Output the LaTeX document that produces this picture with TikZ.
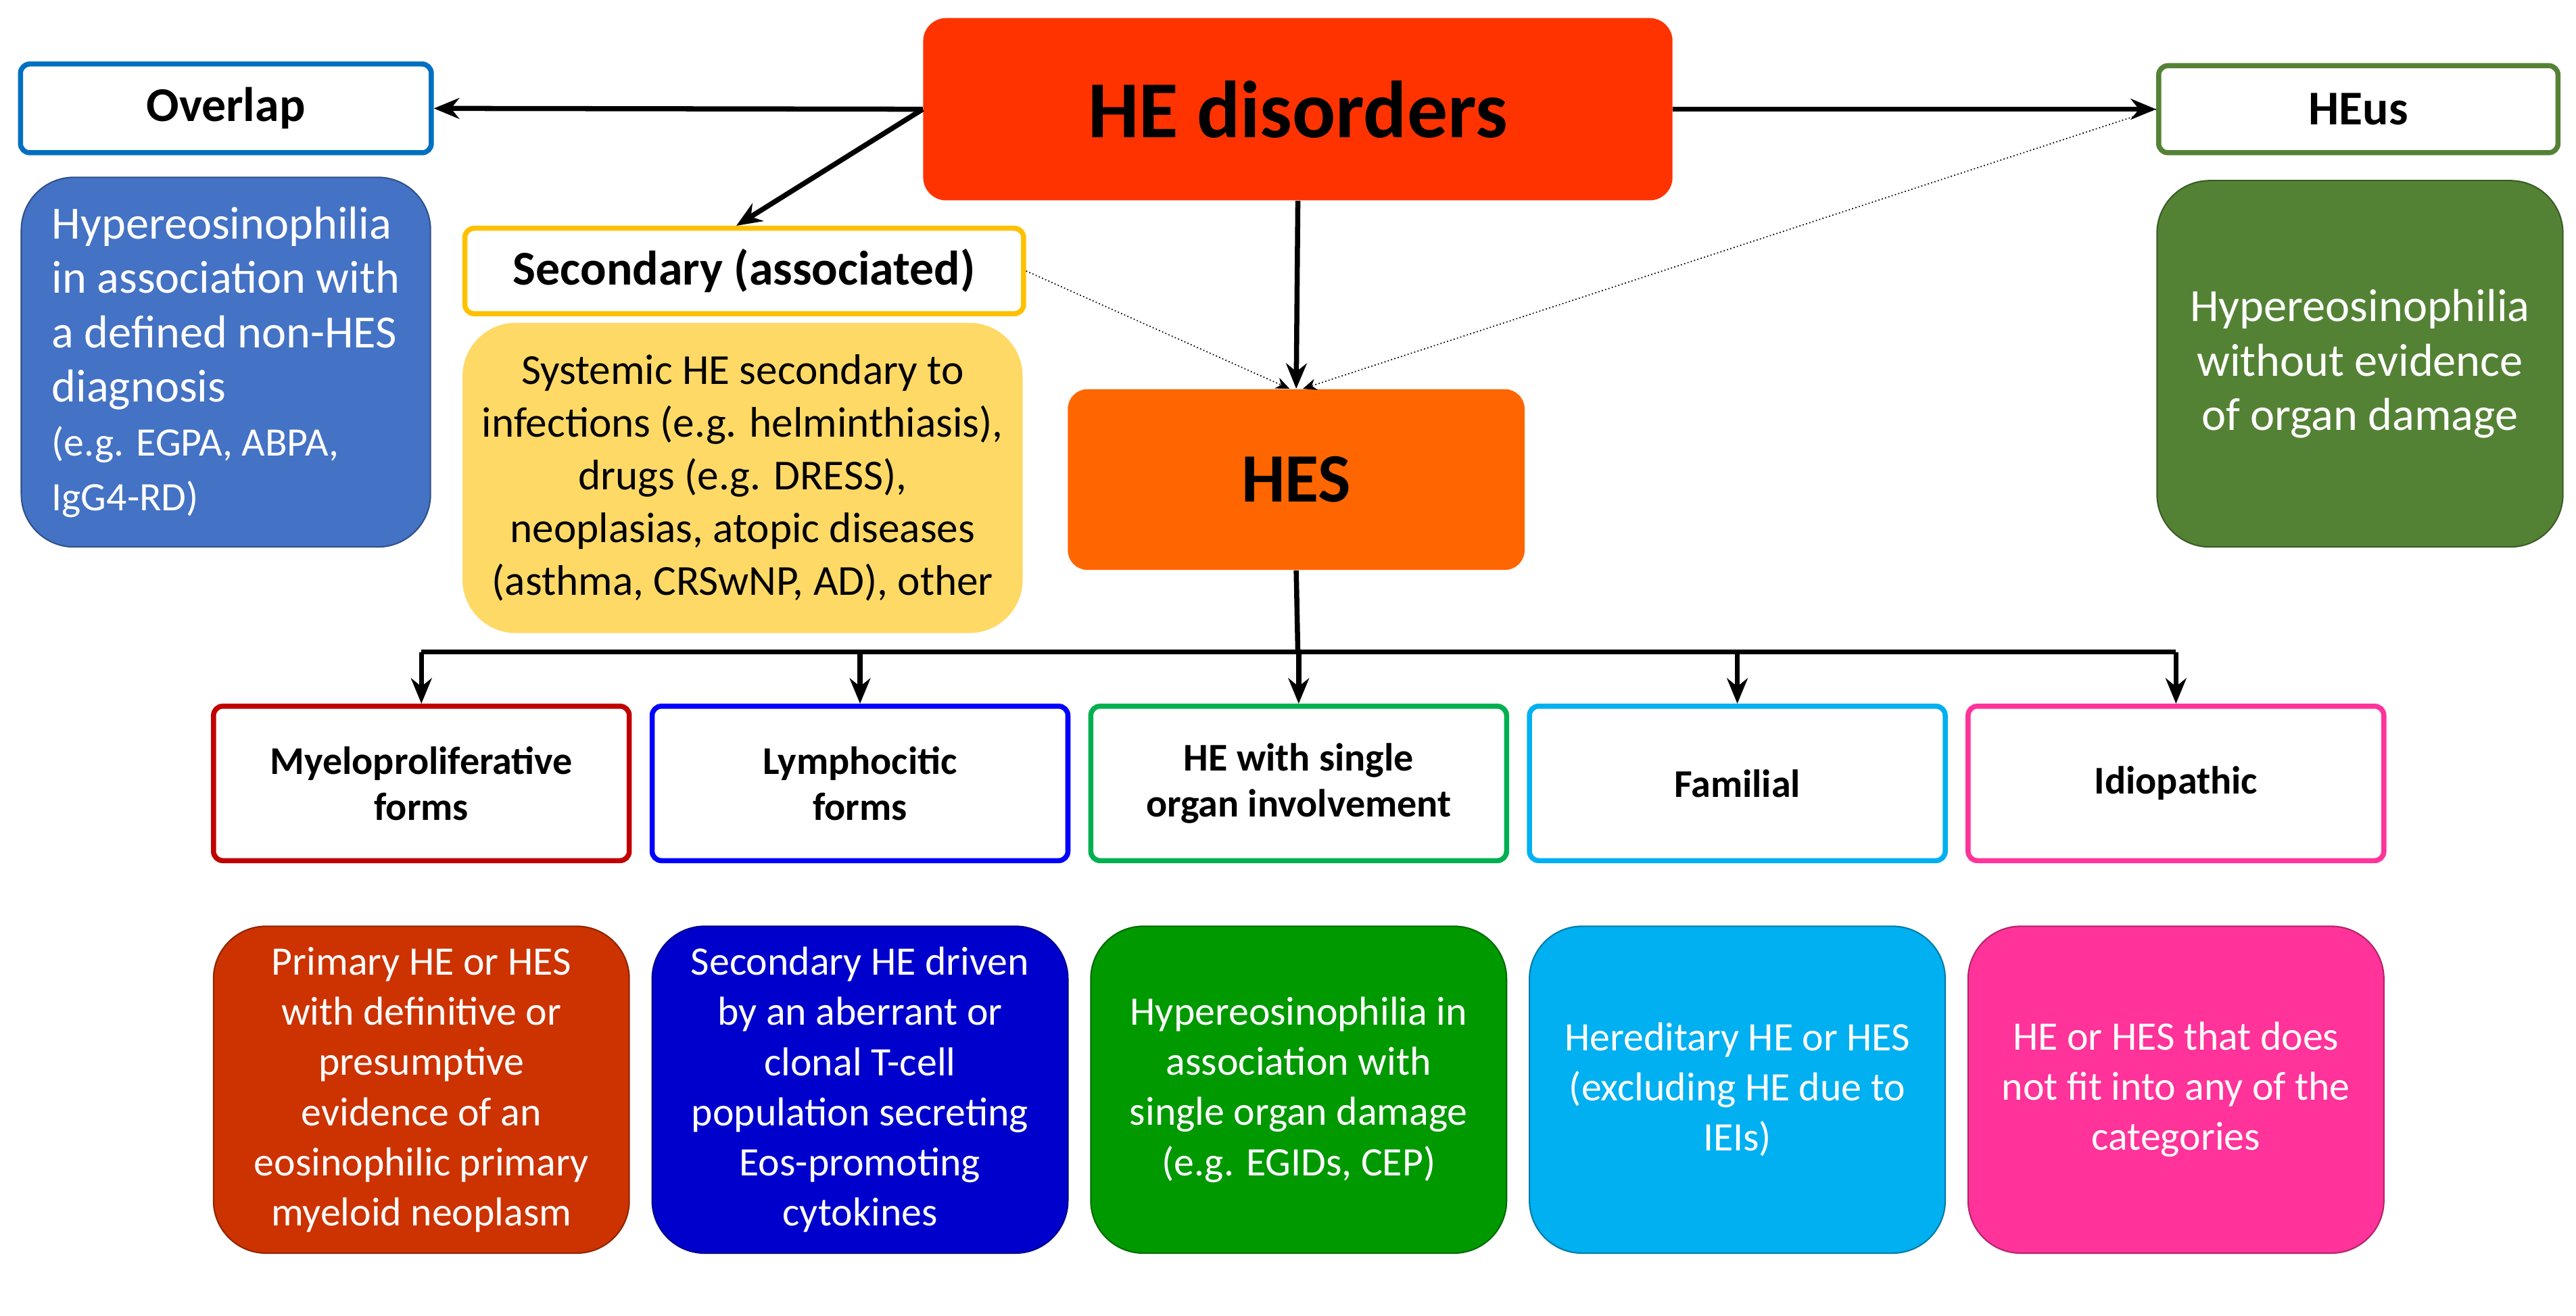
\documentclass[tikz,border=0pt]{standalone}
\usepackage{fontspec}
\setmainfont{Carlito}
\usetikzlibrary{arrows.meta}
\definecolor{hered}{HTML}{FF3300}
\definecolor{hesor}{HTML}{FF6600}
\definecolor{ovlb}{HTML}{0070C0}
\definecolor{ovlf}{HTML}{4472C4}
\definecolor{heusg}{HTML}{548235}
\definecolor{secy}{HTML}{FFC000}
\definecolor{secf}{HTML}{FFD966}
\definecolor{myb}{HTML}{C00000}
\definecolor{myf}{HTML}{CC3300}
\definecolor{lyb}{HTML}{0000FF}
\definecolor{lyf}{HTML}{0000CC}
\definecolor{sob}{HTML}{00B050}
\definecolor{sof}{HTML}{009900}
\definecolor{fab}{HTML}{00B0F0}
\definecolor{idb}{HTML}{FF3399}
\tikzset{
  lbl/.style={draw=#1, line width=2.2pt, fill=white, rounded corners=4pt, align=center, font=\fontsize{17}{20}\selectfont\bfseries, minimum width=6.325cm, minimum height=2.35cm, inner sep=2pt},
  dsc/.style={fill=#1, draw=#1!70!black, line width=0.6pt, rounded corners=0.8cm, align=center, text=white, font=\fontsize{17.5}{21.7}\selectfont, minimum width=6.325cm, minimum height=4.975cm, inner sep=2pt},
  arr/.style={line width=2.2pt, -{Stealth[length=11pt,width=9pt]}},
  dot/.style={line width=0.5pt, densely dotted, -{Stealth[length=6pt,width=5pt]}},
  ln/.style={line width=2.2pt}
}
\begin{document}
\begin{tikzpicture}[x=0.025cm,y=-0.025cm]
\useasboundingbox (0,0) rectangle (1568,801);
\fill[white] (0,0) rectangle (1568,801);
\node[fill=hered, rounded corners=0.35cm, minimum width=11.4cm, minimum height=2.775cm, font=\fontsize{35}{40}\selectfont\bfseries] (hed) at (790,66.5) {HE disorders};
\node[lbl=ovlb, minimum width=6.25cm, minimum height=1.35cm, font=\fontsize{21}{24}\selectfont\bfseries] (ovl) at (137.5,66) {Overlap};
\node[lbl=heusg, minimum width=6.075cm, minimum height=1.325cm, font=\fontsize{21}{24}\selectfont\bfseries] (heus) at (1435.5,66.5) {HEus};
\node[dsc=ovlf, minimum width=6.225cm, minimum height=5.625cm, align=left, font=\fontsize{20}{23.5}\selectfont] (ovld) at (137.5,220.5) {Hypereosinophilia\\in association with\\a defined non-HES\\diagnosis\\{\fontsize{17.5}{23}\selectfont(e.g. EGPA, ABPA,}\\{\fontsize{17.5}{23}\selectfont IgG4-RD)}};
\node[dsc=heusg, minimum width=6.175cm, minimum height=5.575cm, font=\fontsize{20}{23.5}\selectfont] (heusd) at (1436.5,221.5) {Hypereosinophilia\\without evidence\\of organ damage};
\node[lbl=secy, minimum width=8.5cm, minimum height=1.3cm, font=\fontsize{21}{24}\selectfont\bfseries] (sec) at (453,165) {Secondary (associated)};
\node[dsc=secf, draw=secf, text=black, minimum width=8.5cm, minimum height=4.7cm, font=\fontsize{18.5}{22.8}\selectfont] (secd) at (452,291) {Systemic HE secondary to\\infections (e.g. helminthiasis),\\drugs (e.g. DRESS),\\neoplasias, atopic diseases\\(asthma, CRSwNP, AD), other};
\node[fill=hesor, rounded corners=0.3cm, minimum width=6.95cm, minimum height=2.75cm, font=\fontsize{30}{34}\selectfont\bfseries] (hes) at (789,292) {HES};

\node[lbl=myb] (my) at (256.5,477) {Myeloproliferative\\forms};
\node[lbl=lyb] (ly) at (523.5,477) {Lymphocitic\\forms};
\node[lbl=sob] (so) at (790.5,477) {HE with single\\organ involvement};
\node[lbl=fab] (fa) at (1057.5,477) {Familial};
\node[lbl=idb] (id) at (1324.5,477) {Idiopathic};

\node[dsc=myf] (myd) at (256.5,663.5) {Primary HE or HES\\with definitive or\\presumptive\\evidence of an\\eosinophilic primary\\myeloid neoplasm};
\node[dsc=lyf] (lyd) at (523.5,663.5) {Secondary HE driven\\by an aberrant or\\clonal T-cell\\population secreting\\Eos-promoting\\cytokines};
\node[dsc=sof] (sod) at (790.5,663.5) {Hypereosinophilia in\\association with\\single organ damage\\(e.g. EGIDs, CEP)};
\node[dsc=fab] (fad) at (1057.5,663.5) {Hereditary HE or HES\\(excluding HE due to\\IEIs)};
\node[dsc=idb] (idd) at (1324.5,663.5) {HE or HES that does\\not fit into any of the\\categories};

\draw[arr] (hed.west) -- (ovl.east);
\draw[arr] (hed.west) -- ([xshift=-0.12cm]sec.north);
\draw[arr] (hed.east) -- (heus.west);
\draw[arr] (hed.south) -- (hes.north);
\draw[dot] (sec.east) -- ([xshift=-0.1cm]hes.north);
\draw[dot] (heus.west) -- ([xshift=0.1cm]hes.north);
\coordinate (bus) at (790,397);
\draw[ln] (hes.south) -- (bus);
\draw[ln] (my.north |- bus) -- (id.north |- bus);
\foreach \n in {my,ly,so,fa,id} \draw[arr] (\n.north |- bus) -- (\n.north);
\end{tikzpicture}
\end{document}
